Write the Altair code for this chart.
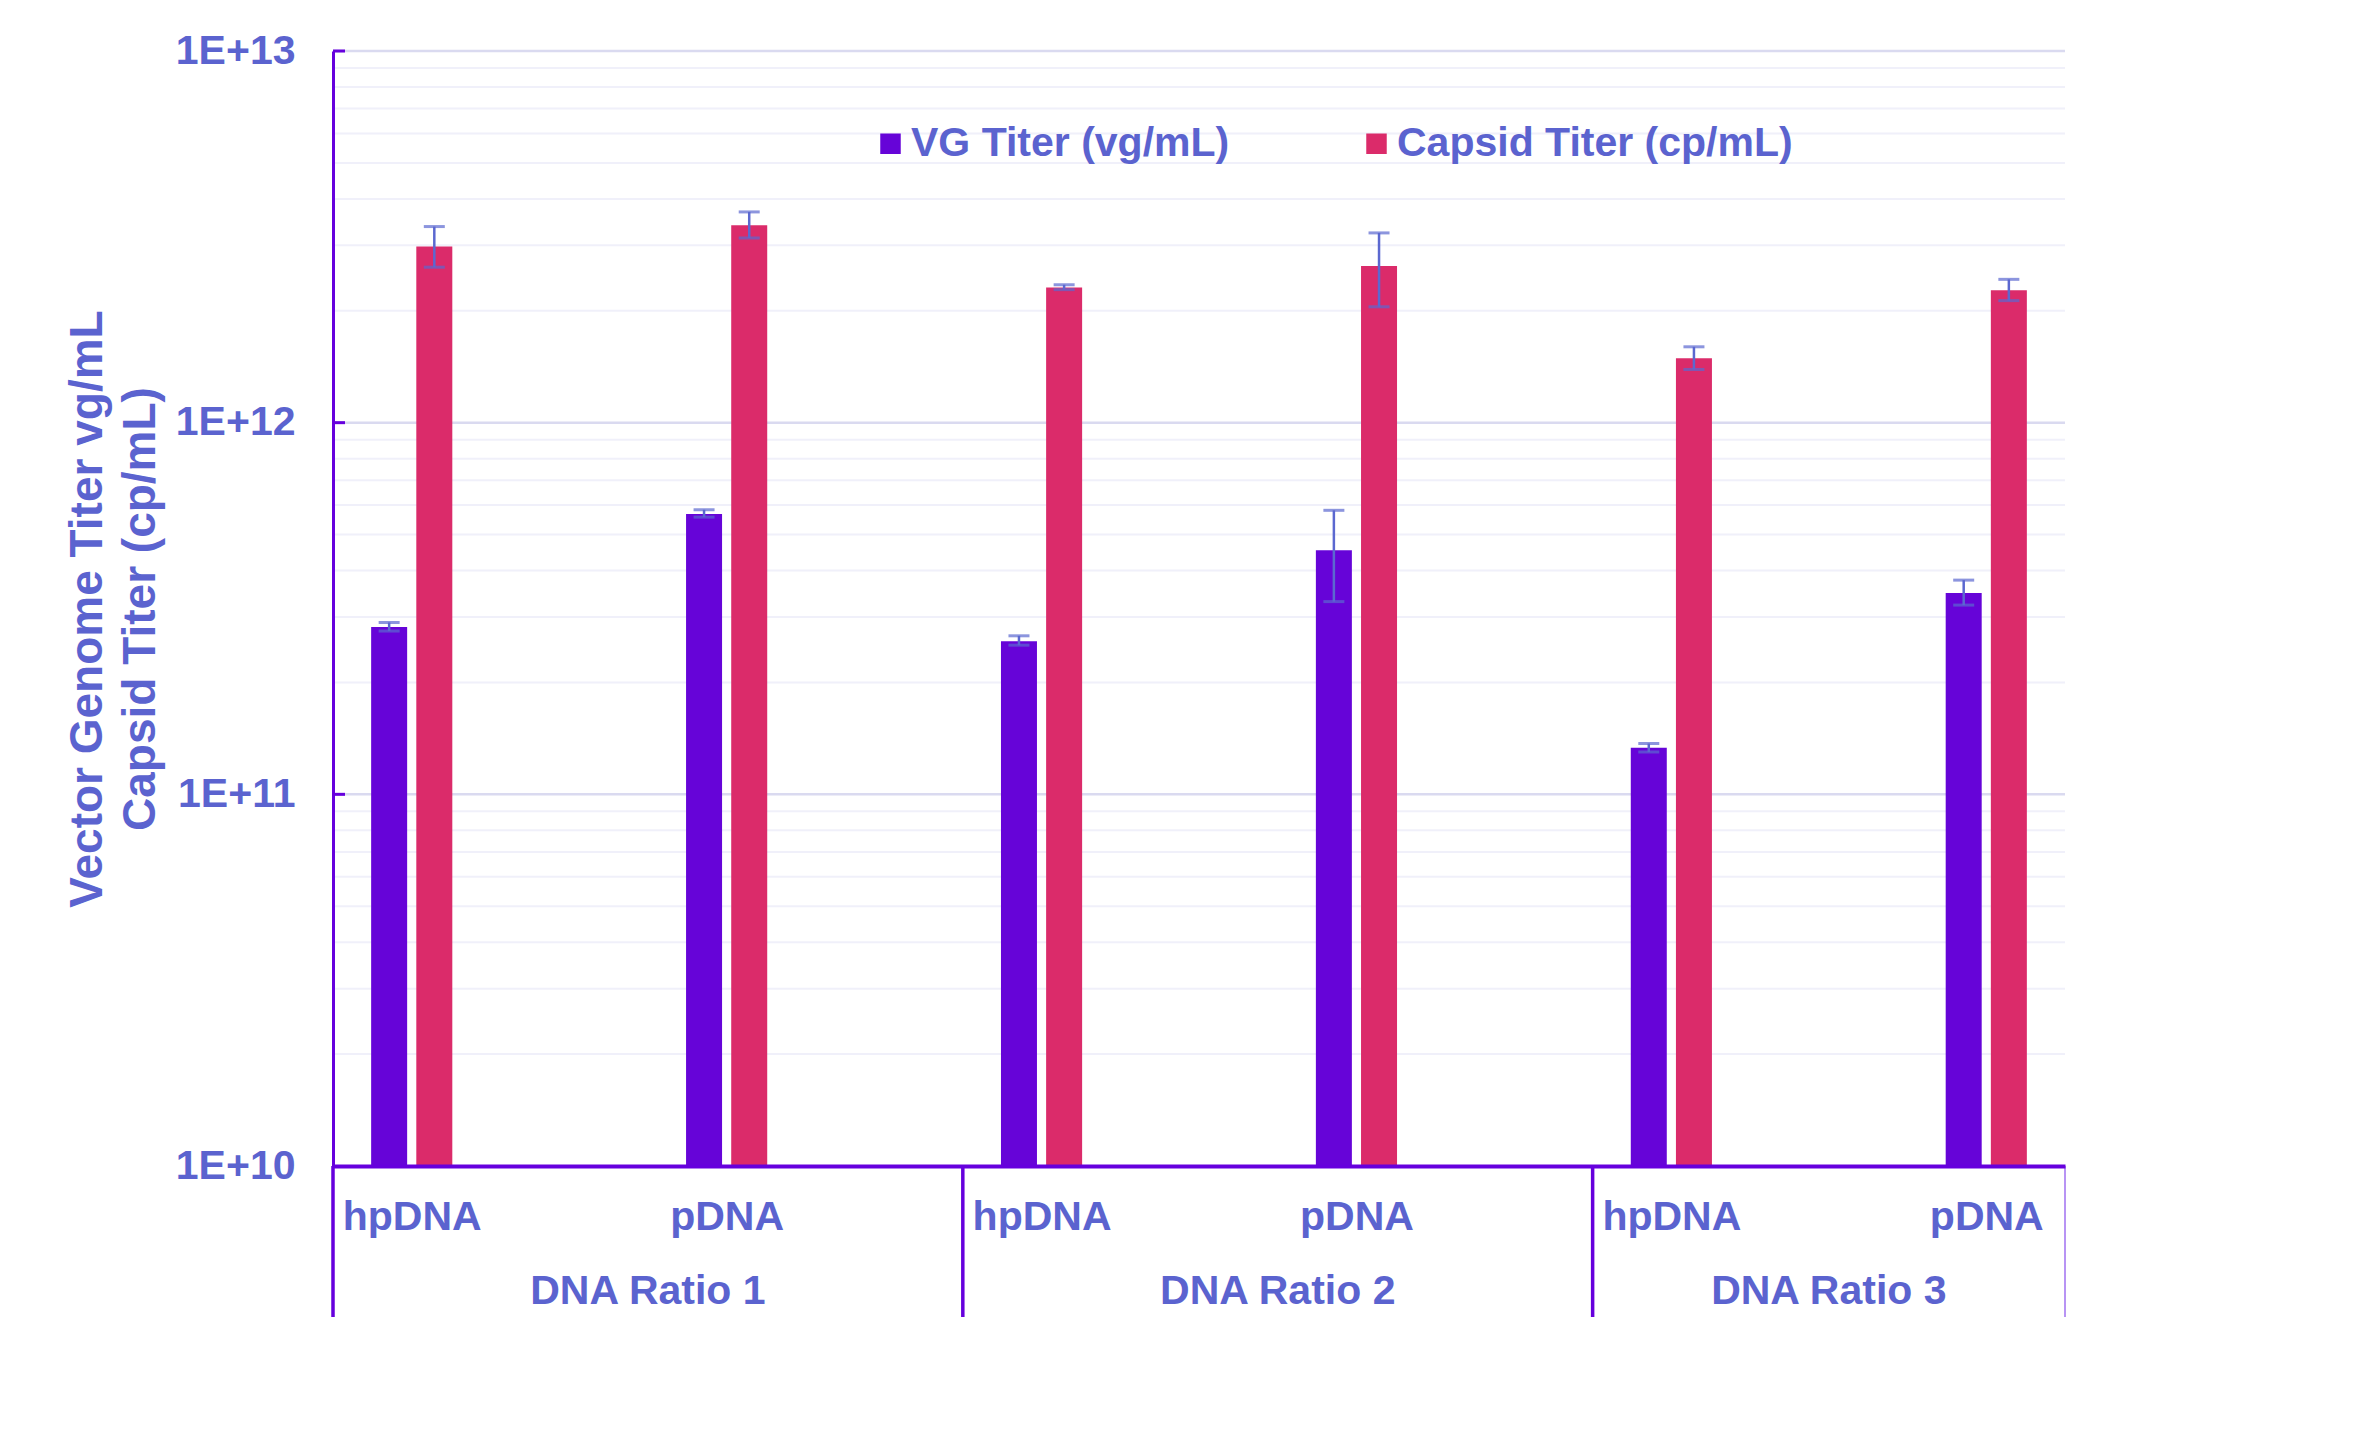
import json
import altair as alt
import pandas as pd

# ---------------- data ----------------
groups = ["DNA Ratio 1", "DNA Ratio 2", "DNA Ratio 3"]
categories = ["hpDNA", "pDNA", "hpDNA", "pDNA", "hpDNA", "pDNA"]
category_group = ["DNA Ratio 1", "DNA Ratio 1", "DNA Ratio 2", "DNA Ratio 2", "DNA Ratio 3", "DNA Ratio 3"]
series = ["VG Titer (vg/mL)", "Capsid Titer (cp/mL)"]

vg_titer = [2.82e11, 5.68e11, 2.58e11, 4.54e11, 1.334e11, 3.48e11]
vg_err_hi = [2.90e11, 5.83e11, 2.67e11, 5.81e11, 1.37e11, 3.77e11]
vg_err_lo = [2.75e11, 5.57e11, 2.52e11, 3.30e11, 1.30e11, 3.23e11]

capsid_titer = [2.98e12, 3.40e12, 2.31e12, 2.64e12, 1.49e12, 2.27e12]
capsid_err_hi = [3.37e12, 3.69e12, 2.35e12, 3.24e12, 1.60e12, 2.43e12]
capsid_err_lo = [2.62e12, 3.14e12, 2.28e12, 2.05e12, 1.39e12, 2.13e12]

y_ticks = [1e10, 1e11, 1e12, 1e13]
minor_mult = [2, 3, 4, 5, 6, 7, 8, 9]

y_title = ["Vector Genome Titer vg/mL", "Capsid Titer (cp/mL)"]

# ---------------- layout / style ----------------
W, H = 1732, 1115
FONT = "Liberation Sans"
TXT = "#5b63cf"
AX = "#6600dd"
PURPLE = "#6604d8"
RED = "#db2b6a"
ERR = "#5b68d0"
FS = 41
TFS = 46
X_LEFT, X_RIGHT = -0.25, 5.25      # x-domain in category units
OFF = 0.0717                       # half distance between the paired bars (category units)

rows = []
for i, (c, g) in enumerate(zip(categories, category_group)):
    rows.append(dict(idx=i, cat=c, grp=g, series=series[0], side=-1,
                     value=vg_titer[i], lo=vg_err_lo[i], hi=vg_err_hi[i]))
    rows.append(dict(idx=i, cat=c, grp=g, series=series[1], side=1,
                     value=capsid_titer[i], lo=capsid_err_lo[i], hi=capsid_err_hi[i]))
df = pd.DataFrame(rows)

# group boundaries and centres (in category units)
bounds = []
for g in groups:
    idxs = [i for i, gg in enumerate(category_group) if gg == g]
    bounds.append(min(idxs) + X_LEFT)
bounds_right = bounds[1:] + [X_RIGHT]
grp_df = pd.DataFrame({"grp": groups,
                       "xpos": [(a + b) / 2 for a, b in zip(bounds, bounds_right)]})
sep_df = pd.DataFrame({"xpos": bounds})
end_df = pd.DataFrame({"xpos": [X_RIGHT]})

minor_df = pd.DataFrame({"v": [m * t for t in y_ticks[:-1] for m in minor_mult]})
major_df = pd.DataFrame({"v": y_ticks[1:]})

xscale = alt.Scale(domain=[X_LEFT, X_RIGHT], nice=False, zero=False, padding=0)
yscale = alt.Scale(type="log", domain=[y_ticks[0], y_ticks[-1]], nice=False, padding=0)

xaxis = alt.Axis(
    values=list(range(len(categories))),
    labelExpr=json.dumps(categories) + "[round(datum.value)]",
    title=None, grid=False, ticks=False, tickSize=0,
    domain=True, domainColor=AX, domainWidth=4, zindex=1,
    labelFont=FONT, labelFontSize=FS, labelFontWeight="bold", labelColor=TXT,
    labelPadding=31, labelFlush=False, labelBound=False, labelOverlap=False,
)
yaxis = alt.Axis(
    values=y_ticks,
    labelExpr="'1E+' + round(log(datum.value) / LN10)",
    title=y_title, grid=False, ticks=False, tickSize=0,
    domain=True, domainColor=AX, domainWidth=3, zindex=1,
    labelFont=FONT, labelFontSize=FS, labelFontWeight="bold", labelColor=TXT,
    labelPadding=38, labelOverlap=False,
    titleFont=FONT, titleFontSize=TFS, titleFontWeight="bold", titleColor=TXT,
    titleLineHeight=53, titlePadding=11,
)

X = lambda f="xpos": alt.X(f"{f}:Q", scale=xscale, axis=xaxis)
Y = lambda f: alt.Y(f"{f}:Q", scale=yscale, axis=yaxis)

minor_grid = alt.Chart(minor_df).mark_rule(color="#f0f0fa", strokeWidth=2).encode(y=Y("v"))
major_grid = alt.Chart(major_df).mark_rule(color="#dadaf0", strokeWidth=2.5).encode(y=Y("v"))

base = alt.Chart(df).transform_calculate(xpos=f"datum.idx + datum.side * {OFF}")

legend = alt.Legend(
    orient="none", legendX=537, legendY=72, direction="horizontal", title=None,
    symbolType="square", symbolSize=420, symbolStrokeWidth=0, symbolOpacity=1,
    labelFont=FONT, labelFontSize=FS, labelFontWeight="bold", labelColor=TXT,
    labelOffset=0, columnPadding=126, padding=0, labelLimit=0,
)

bars = base.mark_bar(size=36).encode(
    x=X(),
    y=Y("value"),
    y2=alt.datum(y_ticks[0]),
    color=alt.Color("series:N", scale=alt.Scale(domain=series, range=[PURPLE, RED]), legend=legend),
)

err_rule = base.mark_rule(color=ERR, strokeWidth=2.5).encode(x=X(), y=Y("lo"), y2="hi:Q")
err_caps = base.transform_fold(["lo", "hi"], as_=["end", "ev"]).mark_tick(
    orient="horizontal", size=21, thickness=3, color=ERR
).encode(x=X(), y=Y("ev"))

in_ticks = alt.Chart(pd.DataFrame({"v": y_ticks[1:]})).mark_rule(color=AX, strokeWidth=3).encode(
    y=Y("v"), x=alt.value(0), x2=alt.value(12)
)

separators = alt.Chart(sep_df).mark_rule(color=AX, strokeWidth=3.5).encode(
    x=X(), y=alt.value(H), y2=alt.value(H + 151)
)
end_line = alt.Chart(end_df).mark_rule(color="#a070f0", strokeWidth=1.5).encode(
    x=X(), y=alt.value(H), y2=alt.value(H + 151)
)

group_labels = alt.Chart(grp_df).mark_text(
    font=FONT, fontSize=FS, fontWeight="bold", color=TXT, align="center", baseline="alphabetic"
).encode(x=X(), y=alt.value(1253), text="grp:N")

chart = alt.layer(
    minor_grid, major_grid, bars, err_rule, err_caps, in_ticks, separators, end_line, group_labels
).properties(
    width=W, height=H,
    autosize=alt.AutoSizeParams(type="none"),
    padding={"left": 333, "top": 51, "right": 295, "bottom": 277},
).configure_view(stroke=None)

chart.save("out.html", embed_options={"renderer": "svg", "actions": False})
